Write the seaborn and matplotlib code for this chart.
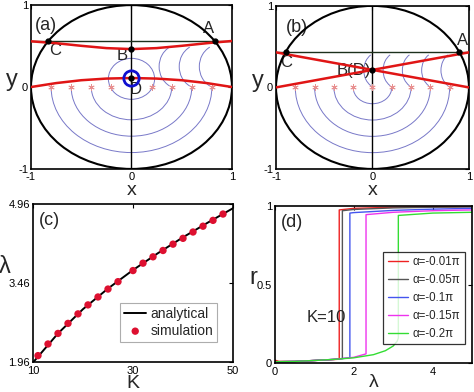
import matplotlib
matplotlib.use("Agg")
import matplotlib.pyplot as plt
from matplotlib.patches import Arc, Ellipse
import seaborn as sns
import numpy as np
import pandas as pd

# ---- data ----
# panel (a)
a_red_x = [-1, -0.75, -0.5, -0.25, 0, 0.25, 0.5, 0.75, 1]
a_red_top = [0.558, 0.535, 0.503, 0.475, 0.463, 0.475, 0.503, 0.535, 0.562]
a_red_low = [0.0, 0.048, 0.083, 0.103, 0.11, 0.103, 0.083, 0.048, 0.0]
a_hline = 0.556
a_stars = [-0.8, -0.6, -0.4, -0.2, 0.2, 0.4, 0.6, 0.8]
a_orbits = [0.4, 0.6, 0.8]
a_rise = [0.4, 0.6, 0.8]
a_points = {"A": (0.83, 0.556), "C": (-0.83, 0.556), "B": (0.0, 0.47), "D": (0.0, 0.11)}

# panel (b)
b_hline = 0.43
b_red1_x, b_red1_y = [-1, 1], [0.0, 0.43]
b_red2_x, b_red2_y = [-1, 1], [0.43, 0.0]
b_stars = [-0.8, -0.6, -0.4, -0.2, 0.0, 0.2, 0.4, 0.6, 0.8]
b_orbits = [0.2, 0.4, 0.6, 0.8]
b_rise = [0.0, 0.2, 0.4, 0.6, 0.8]
b_points = {"A": (0.90, 0.43), "C": (-0.90, 0.43), "B(D)": (0.0, 0.215)}

# panel (c)
K_an = [10, 15, 20, 25, 30, 35, 40, 45, 50]
lam_an = [1.96, 2.51, 2.97, 3.36, 3.71, 4.03, 4.33, 4.61, 4.88]
K_sim = [11, 13, 15, 17, 19, 21, 23, 25, 27, 30, 32, 34, 36, 38, 40, 42, 44, 46, 48]
lam_sim = [2.09, 2.31, 2.51, 2.70, 2.88, 3.05, 3.20, 3.35, 3.49, 3.70, 3.84,
           3.96, 4.08, 4.20, 4.31, 4.43, 4.54, 4.65, 4.77]

# panel (d)
alpha_labels = ["α=-0.01π", "α=-0.05π", "α=-0.1π", "α=-0.15π", "α=-0.2π"]
alpha_colors = ["#ee2222", "#555555", "#4455ee", "#ee33ee", "#33dd33"]
d_lam = [
    [0, 0.1, 0.5, 1.0, 1.5, 1.63, 1.63, 2, 3, 4, 5],
    [0, 0.5, 1.0, 1.5, 1.71, 1.71, 2, 3, 4, 5],
    [0, 0.5, 1.0, 1.5, 1.90, 1.90, 2, 3, 4, 5],
    [0, 0.5, 1.0, 1.5, 2.0, 2.31, 2.31, 3, 4, 5],
    [0, 0.5, 1.0, 1.5, 2.0, 2.5, 2.8, 3.0, 3.1, 3.13, 3.13, 4, 5],
]
d_r = [
    [0.02, 0.012, 0.012, 0.018, 0.024, 0.026, 0.975, 0.985, 0.992, 0.995, 0.997],
    [0.01, 0.012, 0.018, 0.025, 0.03, 0.97, 0.978, 0.988, 0.992, 0.994],
    [0.01, 0.012, 0.018, 0.025, 0.035, 0.955, 0.958, 0.972, 0.98, 0.985],
    [0.01, 0.012, 0.018, 0.025, 0.038, 0.06, 0.945, 0.96, 0.97, 0.975],
    [0.01, 0.012, 0.018, 0.025, 0.035, 0.055, 0.08, 0.11, 0.14, 0.16, 0.94, 0.955, 0.96],
]

# ---- style ----
sns.set_theme(style="white")
plt.rcParams["font.family"] = ["Liberation Sans", "DejaVu Sans"]
plt.rcParams["axes.unicode_minus"] = False
plt.rcParams["xtick.direction"] = "in"
plt.rcParams["ytick.direction"] = "in"
plt.rcParams["xtick.major.size"] = 3
plt.rcParams["ytick.major.size"] = 3
plt.rcParams["xtick.major.pad"] = 2.5
plt.rcParams["ytick.major.pad"] = 2

fig = plt.figure(figsize=(4.74, 3.92), dpi=100)
ax_a = fig.add_axes([0.0654, 0.569, 0.424, 0.418])
ax_b = fig.add_axes([0.5823, 0.569, 0.407, 0.416])
ax_c = fig.add_axes([0.0696, 0.0753, 0.422, 0.4043])
ax_d = fig.add_axes([0.5802, 0.0732, 0.4156, 0.4013])

RED = "#e01515"
BLUE = "#7878c8"
STAR = "#e89090"


def frame(ax):
    for s in ax.spines.values():
        s.set_visible(True)
        s.set_color("black")
        s.set_linewidth(1.2)
    ax.tick_params(top=True, right=True, labelsize=8, colors="black", width=0.8)


def phase_base(ax, hline):
    ax.add_patch(Ellipse((0, 0), 2, 2, fill=False, ec="black", lw=1.5, zorder=4))
    ax.axvline(0, color="black", lw=1.0, zorder=3)
    ax.axhline(hline, color="#1c301c", lw=1.0, zorder=3)
    ax.set_xlim(-1, 1)
    ax.set_ylim(-1, 1)
    ax.set_xticks([-1, 0, 1])
    ax.set_yticks([-1, 0, 1])
    ax.set_xlabel("x", fontsize=14, labelpad=0)
    ax.set_ylabel("y", fontsize=17, rotation=0, va="center")
    ax.yaxis.set_label_coords(-0.095, 0.54)
    frame(ax)


# ---- (a) ----
phase_base(ax_a, a_hline)
for r in a_orbits:
    ax_a.add_patch(Arc((0, 0), 2 * r, 2 * r, theta1=180, theta2=360,
                       color=BLUE, lw=0.7, zorder=2))
ax_a.add_patch(Ellipse((0, 0.1), 0.46, 0.5, fill=False, ec=BLUE, lw=0.7, zorder=2))
for b in a_rise:
    ax_a.add_patch(Arc((b + 0.075, 0.25), 0.4, 0.54, theta1=112, theta2=248,
                       color=BLUE, lw=0.7, zorder=2))
ax_a.plot(a_red_x, a_red_top, color=RED, lw=1.8, zorder=5)
ax_a.plot(a_red_x, a_red_low, color=RED, lw=1.8, zorder=5)
ax_a.plot(a_stars, [0] * len(a_stars), ls="none", marker=(6, 2, 0), ms=4.5,
          mec=STAR, mew=0.6, zorder=3)
for name, (px, py) in a_points.items():
    ax_a.plot(px, py, "o", color="black", ms=3.5, zorder=6)
ax_a.plot(*a_points["D"], "o", mfc="none", mec="#1010d0", mew=2, ms=11, zorder=6)
ax_a.text(0.77, 0.72, "A", fontsize=12, ha="center", va="center")
ax_a.text(-0.76, 0.44, "C", fontsize=12, ha="center", va="center")
ax_a.text(-0.09, 0.39, "B", fontsize=12, ha="center", va="center")
ax_a.text(0.04, -0.03, "D", fontsize=12, ha="center", va="center")
ax_a.text(0.02, 0.93, "(a)", fontsize=13, transform=ax_a.transAxes, va="top")

# ---- (b) ----
phase_base(ax_b, b_hline)
for r in b_orbits:
    ax_b.add_patch(Arc((0, 0), 2 * r, 2 * r, theta1=180, theta2=360,
                       color=BLUE, lw=0.7, zorder=2))
for b in b_rise:
    ax_b.add_patch(Arc((b + 0.06, 0.21), 0.3, 0.44, theta1=112, theta2=248,
                       color=BLUE, lw=0.7, zorder=2))
ax_b.plot(b_red1_x, b_red1_y, color=RED, lw=1.8, zorder=5)
ax_b.plot(b_red2_x, b_red2_y, color=RED, lw=1.8, zorder=5)
ax_b.plot(b_stars, [0] * len(b_stars), ls="none", marker=(6, 2, 0), ms=4.5,
          mec=STAR, mew=0.6, zorder=3)
for name, (px, py) in b_points.items():
    ax_b.plot(px, py, "o", color="black", ms=3.5, zorder=6)
ax_b.text(0.93, 0.57, "A", fontsize=12, ha="center", va="center")
ax_b.text(-0.90, 0.30, "C", fontsize=12, ha="center", va="center")
ax_b.text(-0.02, 0.21, "B(D)", fontsize=12, ha="right", va="center")
ax_b.text(0.05, 0.92, "(b)", fontsize=13, transform=ax_b.transAxes, va="top")

# ---- (c) ----
df_an = pd.DataFrame({"K": K_an, "lam": lam_an})
df_sim = pd.DataFrame({"K": K_sim, "lam": lam_sim})
sns.lineplot(data=df_an, x="K", y="lam", ax=ax_c, color="black", lw=1.4,
             label="analytical")
sns.scatterplot(data=df_sim, x="K", y="lam", ax=ax_c, color="#dd1030", s=28,
                edgecolor="none", label="simulation", zorder=4)
ax_c.set_xlim(10, 50)
ax_c.set_ylim(1.96, 4.96)
ax_c.set_xticks([10, 30, 50])
ax_c.set_yticks([1.96, 3.46, 4.96])
ax_c.set_yticklabels(["1.96", "3.46", "4.96"])
ax_c.set_xlabel("K", fontsize=14, labelpad=-1)
ax_c.set_ylabel("λ", fontsize=17, rotation=0, va="center")
ax_c.yaxis.set_label_coords(-0.14, 0.60)
frame(ax_c)
leg = ax_c.legend(loc="upper left", bbox_to_anchor=(0.40, 0.42), fontsize=10,
                  frameon=True, fancybox=False, handlelength=1.6,
                  handletextpad=0.3, borderpad=0.3, labelspacing=0.2)
leg.get_frame().set_edgecolor("#999999")
leg.get_frame().set_linewidth(0.8)
ax_c.text(0.03, 0.95, "(c)", fontsize=13, transform=ax_c.transAxes, va="top")

# ---- (d) ----
for lab, col, lam, r in zip(alpha_labels, alpha_colors, d_lam, d_r):
    sns.lineplot(x=lam, y=r, ax=ax_d, color=col, lw=1.0, label=lab,
                 sort=False, estimator=None)
ax_d.set_xlim(0, 5)
ax_d.set_ylim(0, 1)
ax_d.set_xticks([0, 2, 4])
ax_d.set_yticks([0, 0.5, 1])
ax_d.set_yticklabels(["0", "0.5", "1"])
ax_d.set_xlabel("λ", fontsize=14, labelpad=-2)
ax_d.set_ylabel("r", fontsize=17, rotation=0, va="center")
ax_d.yaxis.set_label_coords(-0.11, 0.54)
frame(ax_d)
leg = ax_d.legend(loc="upper right", bbox_to_anchor=(0.995, 0.745), fontsize=8.3,
                  frameon=True, fancybox=False, handlelength=1.8,
                  handletextpad=0.4, borderpad=0.4, labelspacing=0.5)
leg.get_frame().set_edgecolor("black")
leg.get_frame().set_linewidth(0.9)
ax_d.text(1.3, 0.29, "K=10", fontsize=12, ha="center", va="center")
ax_d.text(0.03, 0.95, "(d)", fontsize=13, transform=ax_d.transAxes, va="top")

fig.savefig("out.png", dpi=100)
